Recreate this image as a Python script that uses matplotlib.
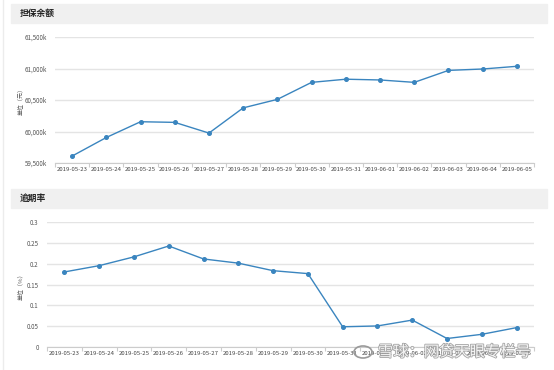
import matplotlib.pyplot as plt
import matplotlib.patheffects as pe
from matplotlib.patches import Rectangle, Circle
from matplotlib.ticker import FuncFormatter, MultipleLocator

plt.rcParams['font.family'] = ['Noto Sans CJK SC', 'DejaVu Sans']

dates = ['2019-05-23', '2019-05-24', '2019-05-25', '2019-05-26', '2019-05-27',
         '2019-05-28', '2019-05-29', '2019-05-30', '2019-05-31', '2019-06-01',
         '2019-06-02', '2019-06-03', '2019-06-04', '2019-06-05']
balance = [59610, 59905, 60155, 60145, 59975, 60375, 60510,
           60780, 60830, 60818, 60780, 60970, 60992, 61035]
overdue = [0.180, 0.195, 0.216, 0.242, 0.211, 0.201, 0.183,
           0.176, 0.049, 0.051, 0.065, 0.021, 0.031, 0.047]

titles = ['担保余额', '逾期率']
units = ['单位（元）', '单位（%）']

line_color = '#3a85bf'
W, H = 554, 370

fig = plt.figure(figsize=(W / 100, H / 100), dpi=100)


def px_rect(x0, y0, x1, y1):
    return [x0 / W, 1 - y1 / H, (x1 - x0) / W, (y1 - y0) / H]


# header bars
for (y0, y1), t in zip([(4, 23), (189, 208)], titles):
    fig.patches.append(Rectangle((11 / W, 1 - y1 / H), 536 / W, (y1 - y0) / H,
                                 transform=fig.transFigure, color='#f0f0f0', zorder=0))
    fig.text(20 / W, 1 - (y0 + y1) / 2 / H, t, fontsize=6.3, fontweight='bold',
             color='#222222', va='center', ha='left')

# faint page border on the left
fig.add_artist(plt.Line2D([3 / W, 3 / W], [0, 1], transform=fig.transFigure,
                          color='#ececec', lw=1))

ax1 = fig.add_axes(px_rect(55, 37, 534, 163))
ax2 = fig.add_axes(px_rect(47, 221.7, 534, 347.3))

x = list(range(len(dates)))

for ax, vals in [(ax1, balance), (ax2, overdue)]:
    ax.plot(x, vals, color=line_color, lw=1, marker='o', markersize=2.6, zorder=3)
    ax.set_xlim(-0.5, len(dates) - 0.5)
    ax.set_xticks(x)
    ax.set_xticklabels(dates, fontsize=4.3, color='#444444')
    ax.set_xticks([i - 0.5 for i in range(len(dates) + 1)], minor=True)
    ax.tick_params(axis='x', which='major', length=0, pad=3)
    ax.tick_params(axis='x', which='minor', length=3, color='#cccccc', width=0.8)
    ax.tick_params(axis='y', length=0, labelsize=4.5, labelcolor='#555555', pad=6)
    for s in ['top', 'right', 'left']:
        ax.spines[s].set_visible(False)
    ax.spines['bottom'].set_color('#cccccc')
    ax.spines['bottom'].set_linewidth(0.8)
    ax.grid(axis='y', color='#e4e4e4', lw=1)
    ax.set_axisbelow(True)

ax1.set_ylim(59500, 61500)
ax1.yaxis.set_major_locator(MultipleLocator(500))
ax1.yaxis.set_major_formatter(FuncFormatter(lambda v, p: f'{int(v):,}k'))

ax2.set_ylim(0, 0.3)
ax2.yaxis.set_major_locator(MultipleLocator(0.05))
ax2.yaxis.set_major_formatter(FuncFormatter(lambda v, p: f'{v:.2f}'.rstrip('0').rstrip('.')))

for yc, u in zip([100, 285], units):
    fig.text(20 / W, 1 - yc / H, u, fontsize=4.3, color='#555555', rotation=90,
             va='center', ha='center')

# watermark
stroke = [pe.withStroke(linewidth=1.2, foreground='#9a9a9a')]
fig.text(378 / W, 1 - 352 / H, '雪球：网贷天眼专栏号', fontsize=11, color='white',
         va='center', ha='left', path_effects=stroke, alpha=0.9)
fig.patches.append(Circle((363 / W, 1 - 352 / H), 9 / W, transform=fig.transFigure,
                          fill=False, ec='#9a9a9a', lw=1.2))

fig.savefig('out.png', dpi=100, facecolor='white')
